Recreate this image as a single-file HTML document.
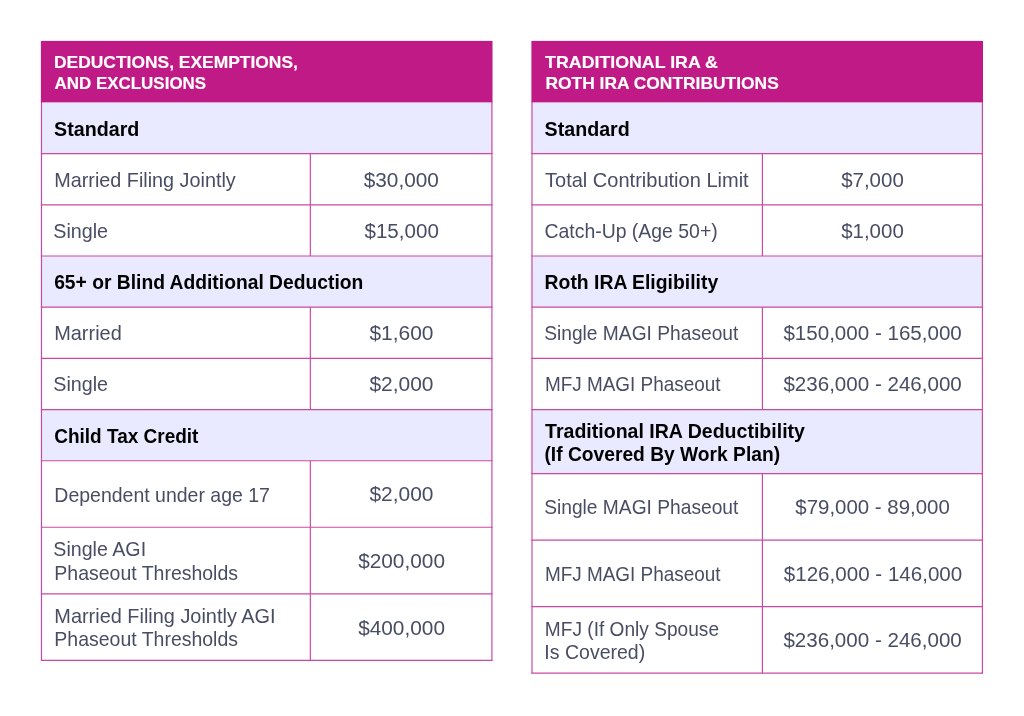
<!DOCTYPE html>
<html lang="en"><head><meta charset="utf-8"><title>Tax Reference Tables</title>
<style>
html,body{margin:0;padding:0;background:#fff}
body{width:1024px;height:716px;overflow:hidden}
svg{display:block}
text{font-family:"Liberation Sans",sans-serif;white-space:pre}
.h{font-size:17.0px;font-weight:bold;fill:#fff;stroke:#fff;stroke-width:.15px}
.s{font-size:20.2px;font-weight:bold;fill:#000}
.l{font-size:20.2px;fill:#494D64}
.v{font-size:19.9px;fill:#494D64}
</style></head>
<body>
<svg width="1024" height="716" viewBox="0 0 1024 716">
<rect x="40.9" y="100.00" width="451.60" height="53.67" fill="#E9E9FF"/>
<rect x="40.9" y="256.03" width="451.60" height="51.18" fill="#E9E9FF"/>
<rect x="40.9" y="409.57" width="451.60" height="51.18" fill="#E9E9FF"/>
<g stroke="#CB49A3" stroke-width="1.18" fill="none">
<path d="M40.9 153.67H492.5"/>
<path d="M40.9 204.85H492.5"/>
<path d="M310.35 153.67V204.85"/>
<path d="M40.9 256.03H492.5"/>
<path d="M310.35 204.85V256.03"/>
<path d="M40.9 307.21H492.5"/>
<path d="M40.9 358.39H492.5"/>
<path d="M310.35 307.21V358.39"/>
<path d="M40.9 409.57H492.5"/>
<path d="M310.35 358.39V409.57"/>
<path d="M40.9 460.75H492.5"/>
<path d="M40.9 527.25H492.5"/>
<path d="M310.35 460.75V527.25"/>
<path d="M40.9 593.80H492.5"/>
<path d="M310.35 527.25V593.80"/>
<path d="M40.9 660.30H492.5"/>
<path d="M310.35 593.80V660.30"/>
<path d="M41.49 102.09V660.89"/>
<path d="M491.91 102.09V660.89"/>
</g>
<rect x="40.9" y="40.9" width="451.60" height="61.45" fill="#C01A87"/>
<rect x="531.4" y="100.00" width="451.60" height="53.67" fill="#E9E9FF"/>
<rect x="531.4" y="256.03" width="451.60" height="51.18" fill="#E9E9FF"/>
<rect x="531.4" y="409.57" width="451.60" height="64.08" fill="#E9E9FF"/>
<g stroke="#CB49A3" stroke-width="1.18" fill="none">
<path d="M531.4 153.67H983.0"/>
<path d="M531.4 204.85H983.0"/>
<path d="M762.4 153.67V204.85"/>
<path d="M531.4 256.03H983.0"/>
<path d="M762.4 204.85V256.03"/>
<path d="M531.4 307.21H983.0"/>
<path d="M531.4 358.39H983.0"/>
<path d="M762.4 307.21V358.39"/>
<path d="M531.4 409.57H983.0"/>
<path d="M762.4 358.39V409.57"/>
<path d="M531.4 473.65H983.0"/>
<path d="M531.4 540.15H983.0"/>
<path d="M762.4 473.65V540.15"/>
<path d="M531.4 606.65H983.0"/>
<path d="M762.4 540.15V606.65"/>
<path d="M531.4 673.15H983.0"/>
<path d="M762.4 606.65V673.15"/>
<path d="M531.99 102.09V673.74"/>
<path d="M982.41 102.09V673.74"/>
</g>
<rect x="531.4" y="40.9" width="451.60" height="61.45" fill="#C01A87"/>
<text class="h" x="53.97" y="67.75" textLength="243.92" lengthAdjust="spacingAndGlyphs">DEDUCTIONS, EXEMPTIONS,</text>
<text class="h" x="54.48" y="89.20" textLength="151.65" lengthAdjust="spacingAndGlyphs">AND EXCLUSIONS</text>
<text class="s" x="54.08" y="135.60" textLength="85.32" lengthAdjust="spacingAndGlyphs">Standard</text>
<text class="l" x="54.22" y="186.70" textLength="181.49" lengthAdjust="spacingAndGlyphs">Married Filing Jointly</text>
<text class="v" x="363.76" y="186.50" textLength="75.11" lengthAdjust="spacingAndGlyphs">$30,000</text>
<text class="l" x="53.27" y="237.70" textLength="54.83" lengthAdjust="spacingAndGlyphs">Single</text>
<text class="v" x="364.50" y="237.70" textLength="74.34" lengthAdjust="spacingAndGlyphs">$15,000</text>
<text class="s" x="54.13" y="288.80" textLength="309.15" lengthAdjust="spacingAndGlyphs">65+ or Blind Additional Deduction</text>
<text class="l" x="54.18" y="340.00" textLength="67.60" lengthAdjust="spacingAndGlyphs">Married</text>
<text class="v" x="369.40" y="340.00" textLength="64.05" lengthAdjust="spacingAndGlyphs">$1,600</text>
<text class="l" x="53.27" y="391.20" textLength="54.83" lengthAdjust="spacingAndGlyphs">Single</text>
<text class="v" x="369.40" y="391.20" textLength="64.05" lengthAdjust="spacingAndGlyphs">$2,000</text>
<text class="s" x="54.16" y="442.50" textLength="144.29" lengthAdjust="spacingAndGlyphs">Child Tax Credit</text>
<text class="l" x="54.34" y="501.50" textLength="215.61" lengthAdjust="spacingAndGlyphs">Dependent under age 17</text>
<text class="v" x="369.40" y="501.30" textLength="64.05" lengthAdjust="spacingAndGlyphs">$2,000</text>
<text class="l" x="53.30" y="556.00" textLength="92.80" lengthAdjust="spacingAndGlyphs">Single AGI</text>
<text class="l" x="54.33" y="579.50" textLength="183.70" lengthAdjust="spacingAndGlyphs">Phaseout Thresholds</text>
<text class="v" x="358.15" y="567.90" textLength="86.83" lengthAdjust="spacingAndGlyphs">$200,000</text>
<text class="l" x="54.31" y="622.50" textLength="221.28" lengthAdjust="spacingAndGlyphs">Married Filing Jointly AGI</text>
<text class="l" x="54.33" y="646.00" textLength="183.70" lengthAdjust="spacingAndGlyphs">Phaseout Thresholds</text>
<text class="v" x="358.15" y="634.50" textLength="86.83" lengthAdjust="spacingAndGlyphs">$400,000</text>
<text class="h" x="545.13" y="67.90" textLength="172.75" lengthAdjust="spacingAndGlyphs">TRADITIONAL IRA &amp;</text>
<text class="h" x="545.48" y="89.20" textLength="233.27" lengthAdjust="spacingAndGlyphs">ROTH IRA CONTRIBUTIONS</text>
<text class="s" x="544.58" y="135.60" textLength="85.20" lengthAdjust="spacingAndGlyphs">Standard</text>
<text class="l" x="544.99" y="186.60" textLength="203.69" lengthAdjust="spacingAndGlyphs">Total Contribution Limit</text>
<text class="v" x="841.16" y="186.50" textLength="62.63" lengthAdjust="spacingAndGlyphs">$7,000</text>
<text class="l" x="544.45" y="237.50" textLength="173.28" lengthAdjust="spacingAndGlyphs">Catch-Up (Age 50+)</text>
<text class="v" x="841.16" y="237.70" textLength="62.63" lengthAdjust="spacingAndGlyphs">$1,000</text>
<text class="s" x="544.59" y="289.00" textLength="173.58" lengthAdjust="spacingAndGlyphs">Roth IRA Eligibility</text>
<text class="l" x="544.18" y="340.00" textLength="194.16" lengthAdjust="spacingAndGlyphs">Single MAGI Phaseout</text>
<text class="v" x="783.40" y="339.80" textLength="178.43" lengthAdjust="spacingAndGlyphs">$150,000 - 165,000</text>
<text class="l" x="544.92" y="391.00" textLength="175.57" lengthAdjust="spacingAndGlyphs">MFJ MAGI Phaseout</text>
<text class="v" x="783.40" y="391.20" textLength="178.43" lengthAdjust="spacingAndGlyphs">$236,000 - 246,000</text>
<text class="s" x="545.10" y="437.50" textLength="259.87" lengthAdjust="spacingAndGlyphs">Traditional IRA Deductibility</text>
<text class="s" x="544.44" y="461.25" textLength="235.62" lengthAdjust="spacingAndGlyphs">(If Covered By Work Plan)</text>
<text class="l" x="544.18" y="514.30" textLength="194.16" lengthAdjust="spacingAndGlyphs">Single MAGI Phaseout</text>
<text class="v" x="795.34" y="514.00" textLength="154.42" lengthAdjust="spacingAndGlyphs">$79,000 - 89,000</text>
<text class="l" x="544.92" y="580.60" textLength="175.57" lengthAdjust="spacingAndGlyphs">MFJ MAGI Phaseout</text>
<text class="v" x="783.80" y="580.90" textLength="178.47" lengthAdjust="spacingAndGlyphs">$126,000 - 146,000</text>
<text class="l" x="544.85" y="636.00" textLength="174.18" lengthAdjust="spacingAndGlyphs">MFJ (If Only Spouse</text>
<text class="l" x="544.33" y="658.80" textLength="100.89" lengthAdjust="spacingAndGlyphs">Is Covered)</text>
<text class="v" x="783.40" y="646.90" textLength="178.43" lengthAdjust="spacingAndGlyphs">$236,000 - 246,000</text>
</svg>
</body></html>
